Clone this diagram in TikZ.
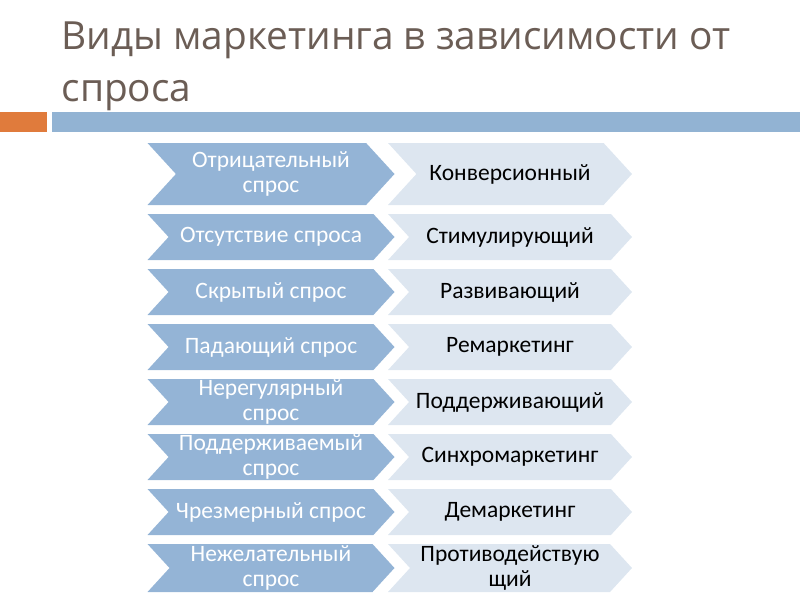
\documentclass[tikz,border=0pt]{standalone}
\usepackage{fontspec}
\setmainfont{Carlito}
\newfontfamily\titlefont{Open Sans}
\usetikzlibrary{shapes.symbols}
\definecolor{titlec}{HTML}{6B5D55}
\definecolor{orangec}{HTML}{E07B3C}
\definecolor{bluebar}{HTML}{92B3D3}
\definecolor{darkc}{HTML}{94B4D6}
\definecolor{lightc}{HTML}{DDE6F0}
\tikzset{
  chev/.style={signal, signal to=east, signal from=west, signal pointer angle=95, inner sep=0pt, align=center, font=\fontsize{23.5}{25}\selectfont},
  dark/.style={chev, fill=darkc, text=white, minimum width=247pt},
  light/.style={chev, fill=lightc, text=black, minimum width=244pt},
}
\begin{document}
\begin{tikzpicture}[x=1pt,y=-1pt]
\useasboundingbox (0,0) rectangle (800,600);
\node[anchor=west, text=titlec, font=\titlefont\fontsize{38.8}{52}\selectfont, align=left] (title) at (58,66) {Виды маркетинга в зависимости от\\спроса};
\fill[orangec] (0,112) rectangle (47,132);
\fill[bluebar] (52,112) rectangle (800,132);
\foreach \y/\h/\a/\b [count=\i] in {
 174/62/{Отрицательный\\спрос}/Конверсионный,
 237/46/{Отсутствие спроса}/Стимулирующий,
 292/46/{Скрытый спрос}/Развивающий,
 347/46/{Падающий спрос}/Ремаркетинг,
 402/46/{Нерегулярный\\спрос}/Поддерживающий,
 457/46/{Поддерживаемый\\спрос}/Синхромаркетинг,
 512/46/{Чрезмерный спрос}/Демаркетинг,
 568/48/{Нежелательный\\спрос}/{Противодействую\\щий}}
{
 \node[dark, minimum height=\h pt] (l\i) at (271,\y) {\a};
 \node[light, minimum height=\h pt] (r\i) at (510,\y) {\b};
}
\end{tikzpicture}
\end{document}
